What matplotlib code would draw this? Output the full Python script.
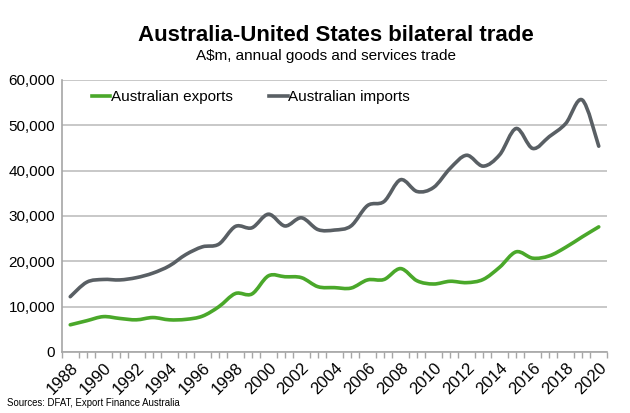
import matplotlib
matplotlib.use("Agg")
import matplotlib.pyplot as plt
import numpy as np
from matplotlib.lines import Line2D
from matplotlib.patches import PathPatch
from matplotlib.path import Path
from matplotlib.ticker import FuncFormatter, MultipleLocator

plt.rcParams["font.family"] = ["Liberation Sans", "DejaVu Sans"]

YEARS = list(range(1988, 2021))
EXPORTS = [
    6000, 6900, 7800, 7400, 7100, 7600, 7100, 7200, 7900, 10000,
    12900, 12800, 16800, 16600, 16400, 14400, 14200, 14100, 15900, 16000,
    18400, 15700, 15000, 15600, 15300, 16000, 18700, 22100, 20700, 21200,
    23100, 25400, 27600,
]
IMPORTS = [
    12200, 15400, 16000, 15900, 16400, 17400, 19000, 21500, 23200, 23800,
    27700, 27400, 30400, 27800, 29600, 27000, 26900, 27800, 32300, 33200,
    38000, 35400, 36300, 40500, 43400, 41000, 43500, 49300, 44900, 47500,
    50400, 55600, 45400,
]
SERIES = ["Australian exports", "Australian imports"]
COLORS = ["#4aa82a", "#595f64"]
TITLE = "Australia-United States bilateral trade"
SUBTITLE = "A$m, annual goods and services trade"
SOURCE = "Sources: DFAT, Export Finance Australia"


def smooth_path(x, y):
    """Excel-style smoothed line: cubic Bezier through every point."""
    pts = np.column_stack([x, y]).astype(float)
    ext = np.vstack([pts[0], pts, pts[-1]])
    verts = [pts[0]]
    codes = [Path.MOVETO]
    for i in range(len(pts) - 1):
        p0, p1, p2, p3 = ext[i], ext[i + 1], ext[i + 2], ext[i + 3]
        c1 = p1 + (p2 - p0) / 6
        c2 = p2 - (p3 - p1) / 6
        verts += [c1, c2, p2]
        codes += [Path.CURVE4] * 3
    return Path(verts, codes)


fig = plt.figure(figsize=(6.3, 4.13), dpi=100)
ax = fig.add_axes([0.0984, 0.1477, 0.8651, 0.6586])

for vals, color in zip([EXPORTS, IMPORTS], COLORS):
    patch = PathPatch(smooth_path(YEARS, vals), fill=False, edgecolor=color,
                      linewidth=2.6, capstyle="round", joinstyle="round", zorder=3)
    ax.add_patch(patch)

ax.set_xlim(YEARS[0] - 0.5, YEARS[-1] + 0.5)
ax.set_ylim(0, 60000)

ax.yaxis.set_major_locator(MultipleLocator(10000))
ax.yaxis.set_major_formatter(FuncFormatter(lambda v, _: f"{v:,.0f}"))
ax.grid(axis="y", color="#bfbfbf", linewidth=1.2)
ax.set_axisbelow(True)
ax.tick_params(axis="y", length=0, labelsize=11, pad=5)

ax.set_xticks(YEARS[::2])
ax.set_xticklabels([str(y) for y in YEARS[::2]], rotation=45, ha="right",
                   rotation_mode="anchor", fontsize=12)
ax.set_xticks(np.arange(YEARS[0] - 0.5, YEARS[-1] + 0.75, 0.5), minor=True)
ax.tick_params(axis="x", which="major", length=0, pad=6)
ax.tick_params(axis="x", which="minor", length=4, color="#a6a6a6", width=1)

for side in ["top", "right"]:
    ax.spines[side].set_visible(False)
for side in ["left", "bottom"]:
    ax.spines[side].set_color("#a6a6a6")
    ax.spines[side].set_linewidth(1.2)

handles = [Line2D([], [], color=c, linewidth=2.6) for c in COLORS]
ax.legend(handles, SERIES, loc="center left", bbox_to_anchor=(0.043, 0.9375),
          ncol=2, frameon=False, fontsize=11, handlelength=1.2,
          handletextpad=0.05, columnspacing=2.4, borderaxespad=0)

fig.text(0.533, 0.915, TITLE, ha="center", va="center", fontsize=16,
         fontweight="bold")
fig.text(0.517, 0.865, SUBTITLE, ha="center", va="center", fontsize=11)
fig.text(0.011, 0.024, SOURCE, ha="left", va="center", fontsize=6.9)

fig.savefig("out.png", dpi=100)
